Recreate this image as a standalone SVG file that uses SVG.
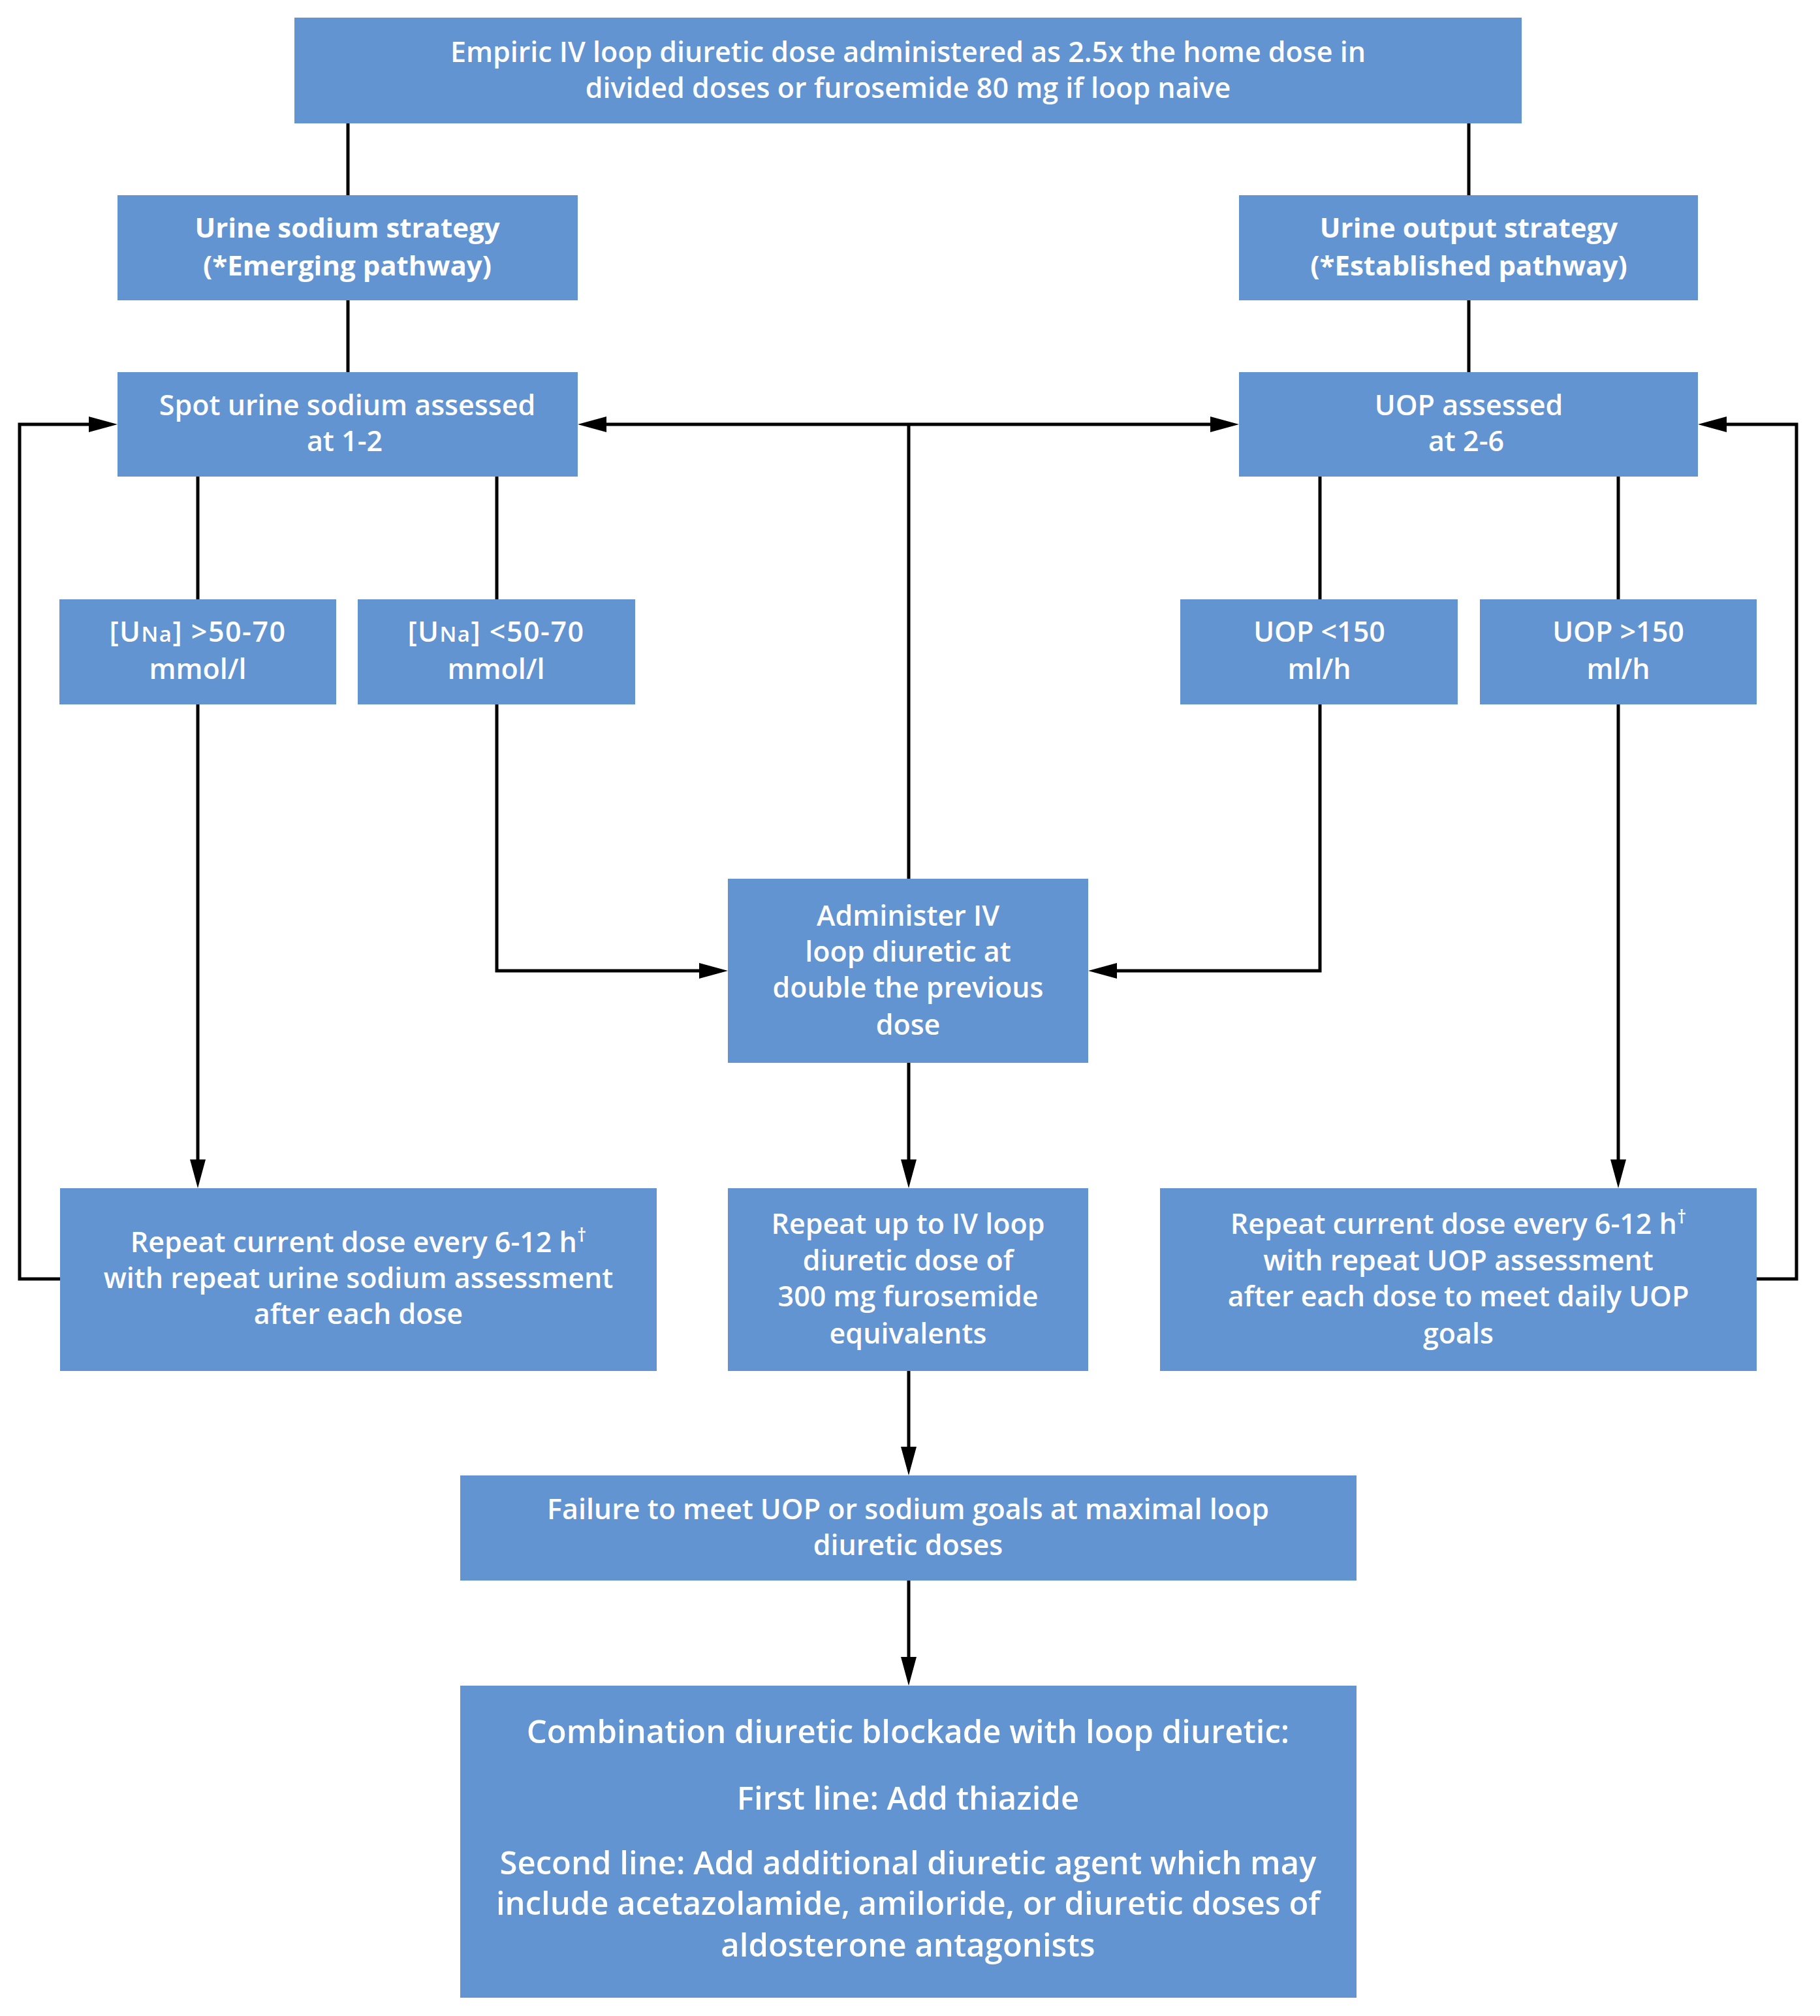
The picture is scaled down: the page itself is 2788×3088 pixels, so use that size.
<svg xmlns="http://www.w3.org/2000/svg" width="2788" height="3088" viewBox="0 0 2788 3088">
<style>
.box{fill:#6294d1}
.t{font-family:"Open Sans",Lato,"Liberation Sans",sans-serif;font-size:43px;font-weight:600;fill:#ffffff;text-anchor:middle}
.b{font-weight:bold;font-size:42px}
.big{font-size:49px}
.sm{font-size:33px}
.una{letter-spacing:1.5px}
.sup{font-size:28px}
.c{fill:none;stroke:#000;stroke-width:5}
</style>
<defs>
<marker id="ah" viewBox="0 0 44 24" refX="0" refY="12" markerWidth="44" markerHeight="24" markerUnits="userSpaceOnUse" orient="auto">
<path d="M0,0 L44,12 L0,24 z" fill="#000"/>
</marker>
</defs>
<rect width="2788" height="3088" fill="#ffffff"/>
<g id="connectors">
<path class="c" d="M533,189 V299"/>
<path class="c" d="M2250,189 V299"/>
<path class="c" d="M533,460 V570"/>
<path class="c" d="M2250,460 V570"/>
<path class="c" d="M303,730 V918"/>
<path class="c" d="M761,730 V918"/>
<path class="c" d="M2022,730 V918"/>
<path class="c" d="M2479,730 V918"/>
<path class="c" d="M303,1079 V1776" marker-end="url(#ah)"/>
<path class="c" d="M761,1079 V1487 H1071" marker-end="url(#ah)"/>
<path class="c" d="M2022,1079 V1487 H1711" marker-end="url(#ah)"/>
<path class="c" d="M1392,1346 V650"/>
<path class="c" d="M1392,650 H929" marker-end="url(#ah)"/>
<path class="c" d="M1392,650 H1854" marker-end="url(#ah)"/>
<path class="c" d="M92,1959 H30 V650 H136" marker-end="url(#ah)"/>
<path class="c" d="M2691,1959 H2752 V650 H2645" marker-end="url(#ah)"/>
<path class="c" d="M2479,1079 V1776" marker-end="url(#ah)"/>
<path class="c" d="M1392,1628 V1776" marker-end="url(#ah)"/>
<path class="c" d="M1392,2100 V2216" marker-end="url(#ah)"/>
<path class="c" d="M1392,2421 V2538" marker-end="url(#ah)"/>
</g>
<g id="n-top">
<rect class="box" x="451" y="27" width="1880" height="162"/>
<text class="t" x="1391" y="95">Empiric IV loop diuretic dose administered as 2.5x the home dose in</text>
<text class="t" x="1391" y="150">divided doses or furosemide 80 mg if loop naive</text>
</g>
<g id="n-sodium-strategy">
<rect class="box" x="180" y="299" width="705" height="161"/>
<text class="t b" x="532" y="364">Urine sodium strategy</text>
<text class="t b" x="532" y="422">(*Emerging pathway)</text>
</g>
<g id="n-output-strategy">
<rect class="box" x="1898" y="299" width="703" height="161"/>
<text class="t b" x="2250" y="364">Urine output strategy</text>
<text class="t b" x="2250" y="422">(*Established pathway)</text>
</g>
<g id="n-spot">
<rect class="box" x="180" y="570" width="705" height="160"/>
<text class="t" x="532" y="636">Spot urine sodium assessed</text>
<text class="t" x="528" y="691">at 1-2</text>
</g>
<g id="n-uop-assessed">
<rect class="box" x="1898" y="570" width="703" height="160"/>
<text class="t" x="2250" y="636">UOP assessed</text>
<text class="t" x="2246" y="691">at 2-6</text>
</g>
<g id="n-una-high">
<rect class="box" x="91" y="918" width="424" height="161"/>
<text class="t una" x="303" y="983">[U<tspan class="sm">Na</tspan>] &gt;50-70</text>
<text class="t" x="303" y="1040">mmol/l</text>
</g>
<g id="n-una-low">
<rect class="box" x="548" y="918" width="425" height="161"/>
<text class="t una" x="760" y="983">[U<tspan class="sm">Na</tspan>] &lt;50-70</text>
<text class="t" x="760" y="1040">mmol/l</text>
</g>
<g id="n-uop-low">
<rect class="box" x="1808" y="918" width="425" height="161"/>
<text class="t" x="2021" y="983">UOP &lt;150</text>
<text class="t" x="2021" y="1040">ml/h</text>
</g>
<g id="n-uop-high">
<rect class="box" x="2267" y="918" width="424" height="161"/>
<text class="t" x="2479" y="983">UOP &gt;150</text>
<text class="t" x="2479" y="1040">ml/h</text>
</g>
<g id="n-administer">
<rect class="box" x="1115" y="1346" width="552" height="282"/>
<text class="t" x="1391" y="1418">Administer IV</text>
<text class="t" x="1391" y="1473">loop diuretic at</text>
<text class="t" x="1391" y="1528">double the previous</text>
<text class="t" x="1391" y="1585">dose</text>
</g>
<g id="n-repeat-sodium">
<rect class="box" x="92" y="1820" width="914" height="280"/>
<text class="t" x="549" y="1918">Repeat current dose every 6-12 h<tspan class="sup" dy="-16">†</tspan></text>
<text class="t" x="549" y="1973">with repeat urine sodium assessment</text>
<text class="t" x="549" y="2028">after each dose</text>
</g>
<g id="n-repeat-max">
<rect class="box" x="1115" y="1820" width="552" height="280"/>
<text class="t" x="1391" y="1890">Repeat up to IV loop</text>
<text class="t" x="1391" y="1946">diuretic dose of</text>
<text class="t" x="1391" y="2001">300 mg furosemide</text>
<text class="t" x="1391" y="2058">equivalents</text>
</g>
<g id="n-repeat-uop">
<rect class="box" x="1777" y="1820" width="914" height="280"/>
<text class="t" x="2234" y="1890">Repeat current dose every 6-12 h<tspan class="sup" dy="-16">†</tspan></text>
<text class="t" x="2234" y="1946">with repeat UOP assessment</text>
<text class="t" x="2234" y="2001">after each dose to meet daily UOP</text>
<text class="t" x="2234" y="2058">goals</text>
</g>
<g id="n-failure">
<rect class="box" x="705" y="2260" width="1373" height="161"/>
<text class="t" x="1391" y="2327">Failure to meet UOP or sodium goals at maximal loop</text>
<text class="t" x="1391" y="2382">diuretic doses</text>
</g>
<g id="n-combination">
<rect class="box" x="705" y="2582" width="1373" height="478"/>
<text class="t big" x="1391" y="2670">Combination diuretic blockade with loop diuretic:</text>
<text class="t big" x="1391" y="2772">First line: Add thiazide</text>
<text class="t big" x="1391" y="2871">Second line: Add additional diuretic agent which may</text>
<text class="t big" x="1391" y="2933">include acetazolamide, amiloride, or diuretic doses of</text>
<text class="t big" x="1391" y="2997">aldosterone antagonists</text>
</g>
</svg>
